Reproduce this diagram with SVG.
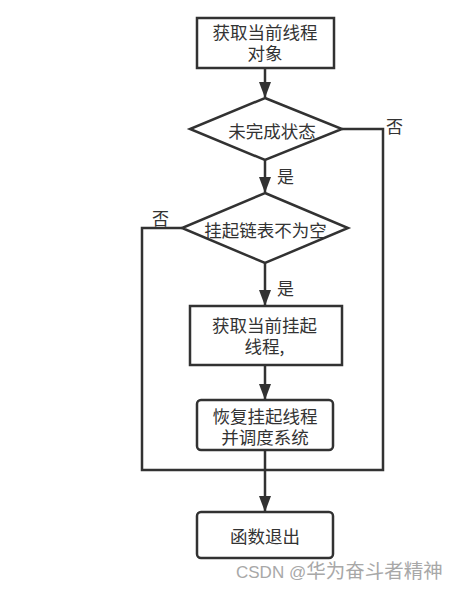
<svg xmlns="http://www.w3.org/2000/svg" width="461" height="589" viewBox="0 0 461 589">
<style>
.s{fill:#fff;stroke:#323232;stroke-width:2.5}
.c{fill:none;stroke:#323232;stroke-width:2.5}
.t{font-family:"Noto Sans CJK SC","Liberation Sans",sans-serif;font-size:17.5px;fill:#333;text-anchor:middle}
.l{font-family:"Noto Sans CJK SC","Liberation Sans",sans-serif;font-size:17px;fill:#333}
.w{font-family:"Liberation Sans","Noto Sans CJK SC",sans-serif;font-size:17px;fill:#a8a8a8}
</style>
<defs>
<marker id="b" markerWidth="16" markerHeight="12" refX="15" refY="6" orient="auto" markerUnits="userSpaceOnUse" viewBox="0 0 16 12">
<path d="M0,0 L16,6 L0,12 Z" fill="#323232"/>
</marker>
</defs>
<g id="connectors">
<path class="c" d="M265,68 V97" marker-end="url(#b)"/>
<path class="c" d="M265,160 V192" marker-end="url(#b)"/>
<path class="c" d="M265,263 V305" marker-end="url(#b)"/>
<path class="c" d="M265,365 V399" marker-end="url(#b)"/>
<path class="c" d="M265,450 V511" marker-end="url(#b)"/>
<path class="c" d="M342,129 H383 V470 H142 V228 H182"/>
</g>
<g id="n1"><rect class="s" x="197" y="18" width="137" height="50"/><text class="t"><tspan x="265" y="39">获取当前线程</tspan><tspan x="265" y="60">对象</tspan></text></g>
<g id="n2"><path class="s" d="M265,98 L342,129 L265,160 L190,129 Z"/><text class="t" x="272" y="138">未完成状态</text></g>
<g id="n3"><path class="s" d="M265,193 L348,228 L265,263 L182,228 Z"/><text class="t" x="265.5" y="236.5">挂起链表不为空</text></g>
<g id="n4"><rect class="s" x="190" y="306" width="152" height="59"/><text class="t"><tspan x="264.5" y="332">获取当前挂起</tspan><tspan x="264.5" y="353">线程,</tspan></text></g>
<g id="n5"><rect class="s" x="197" y="400" width="136" height="50" rx="4"/><text class="t"><tspan x="265" y="422.5">恢复挂起线程</tspan><tspan x="265" y="444">并调度系统</tspan></text></g>
<g id="n6"><rect class="s" x="197" y="512" width="136" height="46" rx="4"/><text class="t" x="265" y="542.5">函数退出</text></g>
<text class="l" x="386" y="133">否</text>
<text class="l" x="277" y="183">是</text>
<text class="l" x="152" y="225">否</text>
<text class="l" x="277" y="295">是</text>
<text class="w" x="236" y="578">CSDN @<tspan font-size="19.5" font-family="Noto Sans CJK SC, sans-serif">华为奋斗者精神</tspan></text>
</svg>
